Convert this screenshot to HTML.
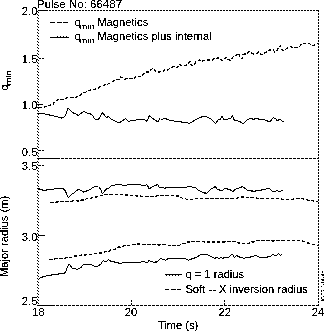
<!DOCTYPE html>
<html><head><meta charset="utf-8"><title>Pulse No: 66487</title>
<style>
html,body{margin:0;padding:0;background:#fff;}
body{width:324px;height:332px;overflow:hidden;}
svg{display:block;}
</style></head>
<body>
<svg width="324" height="332" viewBox="0 0 324 332">
<rect width="324" height="332" fill="#fff"/>
<defs><filter id="bin" x="0" y="0" width="324" height="332" filterUnits="userSpaceOnUse"><feComponentTransfer><feFuncA type="discrete" tableValues="0 0 1 1 1"/></feComponentTransfer></filter></defs>
<g filter="url(#bin)">
<g stroke="#000" fill="none" shape-rendering="crispEdges" stroke-width="1">
<line x1="38" y1="10.5" x2="46" y2="10.5"/>
<line x1="46" y1="10.5" x2="319" y2="10.5" stroke-dasharray="2 1"/>
<line x1="318.5" y1="10" x2="318.5" y2="306" stroke-dasharray="2 1"/>
<line x1="38.5" y1="12" x2="38.5" y2="305" stroke-dasharray="1 2" />
<line x1="37.5" y1="11" x2="37.5" y2="305" stroke-dasharray="1 2" />
<line x1="38" y1="158.5" x2="57" y2="158.5"/>
<line x1="57" y1="158.5" x2="319" y2="158.5" stroke-dasharray="3 1"/>
<line x1="37" y1="305.5" x2="52" y2="305.5"/>
<line x1="52" y1="305.5" x2="319" y2="305.5" stroke-dasharray="3 1"/>
<line x1="39" y1="58.5" x2="44" y2="58.5" stroke-dasharray="2 1"/>
<line x1="39" y1="150.5" x2="44" y2="150.5" stroke-dasharray="2 1"/>
<line x1="39" y1="165.5" x2="44" y2="165.5" stroke-dasharray="2 1"/>
<line x1="38" y1="104.5" x2="43" y2="104.5"/>
<line x1="38" y1="235.5" x2="45" y2="235.5"/>
<line x1="131.5" y1="300" x2="131.5" y2="305" stroke-dasharray="2 1"/>
<line x1="224.5" y1="300" x2="224.5" y2="305" stroke-dasharray="2 1"/>
</g>
<g stroke="#000" fill="none" stroke-width="0.9" stroke-linejoin="round">
<polyline points="38.5,107.6 44.0,107.0 47.7,106.6 48.5,105.2 52.7,105.0 54.5,101.5 57.0,100.0 59.5,99.4 65.0,99.2 66.2,97.8 76.0,97.6 77.2,96.3 80.3,95.1 82.2,92.6 85.9,92.0 87.7,90.8 91.4,89.6 93.9,89.6 97.6,88.3 99.5,87.1 103.2,85.9 105.0,84.6 108.0,84.0 112.0,82.0 116.0,79.9 119.0,79.3 120.3,76.8 123.4,78.0 125.3,79.3 128.3,78.0 130.8,78.6 134.5,78.6 136.4,75.6 139.5,76.5 141.3,76.2 143.9,73.4 145.3,72.0 148.5,72.0 149.9,70.2 153.1,68.3 155.9,72.0 159.1,72.0 162.9,71.6 164.6,69.8 167.7,70.2 169.6,68.3 172.7,67.1 174.5,66.5 177.6,67.7 178.8,64.6 181.3,65.3 182.5,65.9 186.2,65.3 188.1,63.4 190.0,61.6 191.2,65.3 193.0,65.9 194.9,63.4 195.9,61.9 197.1,61.3 199.6,60.0 200.8,61.3 203.3,60.7 205.1,60.0 210.0,60.0 211.3,60.7 213.8,58.8 216.2,58.2 218.7,57.6 219.9,59.4 223.0,60.7 224.2,58.2 226.7,57.6 228.0,59.4 231.0,60.7 232.3,57.6 234.0,56.3 235.7,55.8 237.6,53.3 239.4,54.5 240.0,57.6 241.9,58.8 243.1,54.5 245.6,53.9 247.4,53.3 249.3,51.4 251.1,52.7 254.8,54.5 256.1,53.9 258.5,52.0 261.0,54.5 263.5,54.5 264.7,52.7 267.2,51.4 268.4,50.2 273.2,49.7 274.8,52.1 277.2,50.5 278.8,47.3 280.4,45.7 281.2,48.9 282.8,50.5 286.0,48.9 288.5,47.3 290.0,46.5 293.3,48.0 296.5,47.3 299.7,46.5 301.3,44.0 303.7,43.2 309.3,43.2 310.9,44.9 314.1,45.7 315.7,44.0 318.0,43.2" stroke-dasharray="3.5 1.6" stroke-width="1.1"/>
<polyline points="38.0,113.6 43.4,113.6 48.3,114.8 54.5,116.0 62.0,118.2 65.0,116.7 68.0,107.8 71.2,111.8 76.0,114.2 78.5,115.5 83.4,111.4 88.3,113.6 91.4,114.2 95.1,119.2 98.8,119.2 102.5,112.6 106.2,117.3 108.7,116.7 111.2,119.2 116.0,121.5 119.1,123.1 122.2,120.7 125.9,118.6 128.3,121.3 132.0,120.7 136.4,120.0 138.2,119.4 144.4,119.4 146.9,121.3 149.3,115.7 152.4,118.2 155.9,120.7 158.3,121.9 159.6,118.2 160.8,119.4 165.1,118.6 167.6,119.4 170.7,120.7 173.8,121.0 179.9,121.9 186.7,122.5 188.6,123.5 191.0,122.5 194.0,120.7 196.9,119.1 203.1,116.3 206.8,116.7 210.5,118.8 215.5,123.8 217.9,120.0 220.4,119.4 222.2,115.7 223.5,119.4 225.3,120.0 228.4,118.8 230.5,118.8 232.3,115.1 234.2,120.0 237.3,120.7 240.3,121.9 243.4,123.8 247.1,119.4 249.6,118.8 253.9,119.1 257.0,118.6 260.1,119.4 264.4,119.4 266.9,121.0 270.6,121.3 273.1,117.6 275.6,118.8 277.4,121.0 279.9,118.8 281.8,121.3 283.6,121.3"/>
<polyline points="38.5,187.7 39.7,189.6 44.0,190.2 50.8,189.6 57.6,188.3 62.5,188.3 65.0,190.2 68.1,197.6 71.8,194.5 74.0,192.7 78.9,189.0 83.3,192.0 85.7,191.4 90.0,189.6 94.4,186.5 98.1,186.5 100.5,189.0 102.4,193.9 106.1,189.0 108.6,188.3 111.0,185.9 114.0,185.3 115.7,184.6 119.4,184.0 121.9,184.9 125.0,186.1 128.0,184.6 131.8,184.4 139.8,184.6 141.6,185.3 145.3,185.3 147.2,184.6 149.0,189.0 152.0,187.1 153.1,186.5 157.4,184.6 159.9,187.7 161.7,187.1 164.8,188.3 167.3,187.4 185.8,187.4 188.0,186.5 191.7,186.9 195.4,187.7 199.1,190.6 204.0,193.0 206.5,193.0 210.2,189.6 212.7,188.3 215.2,186.5 217.6,189.6 220.1,190.2 222.0,190.8 224.4,188.7 228.0,189.0 230.9,190.2 232.8,192.0 235.3,189.0 238.3,188.3 242.7,186.5 245.1,188.3 247.6,190.8 254.4,191.1 259.3,190.6 263.0,189.6 267.7,188.6 270.2,189.0 272.6,191.8 275.7,191.1 277.6,190.6 279.4,191.8 281.9,190.6 283.8,191.1"/>
<polyline points="50.2,202.5 53.9,202.5 56.4,201.9 58.8,201.9 61.9,201.3 71.2,201.3 73.0,200.7 79.6,200.9 81.4,200.1 84.5,200.1 87.0,198.2 90.7,198.2 93.1,197.0 96.2,197.0 98.7,195.8 101.8,195.8 105.5,194.5 109.8,194.5 112.3,194.2 116.3,194.4 118.2,194.3 122.5,194.3 125.6,195.1 128.0,195.1 131.8,195.8 135.5,195.8 138.5,196.1 154.9,196.4 156.8,195.8 173.5,195.8 179.6,196.1 182.1,198.2 184.6,198.2 187.0,199.5 190.5,199.5 194.2,198.8 197.9,198.8 200.3,198.2 204.0,198.2 206.5,198.5 230.9,198.3 233.4,198.2 236.5,198.2 239.6,197.0 242.0,197.0 244.5,197.2 249.5,197.2 250.7,197.6 255.0,197.6 257.5,198.5 266.0,198.3 273.9,198.5 276.3,198.8 280.0,198.8 282.5,199.2 293.0,199.2 296.1,198.5 299.8,198.7 305.7,199.1 307.8,200.2 312.0,200.2 314.1,201.5 318.3,201.5" stroke-dasharray="3.5 1.6" stroke-width="1.1"/>
<polyline points="49.0,259.4 53.3,259.4 55.8,258.6 59.5,258.6 61.9,258.2 65.0,258.2 67.5,257.3 71.8,257.3 73.0,256.1 76.0,256.0 78.9,255.7 81.4,254.9 85.1,254.9 87.6,254.5 91.3,254.5 94.4,253.6 97.5,253.6 100.5,252.9 103.0,252.9 105.5,251.4 109.2,251.4 110.4,249.6 114.0,249.3 115.7,249.0 118.2,247.1 121.3,247.1 125.0,245.6 128.7,245.6 131.1,244.6 134.8,244.6 137.3,244.0 140.4,244.0 143.5,244.4 153.1,244.4 156.2,244.9 159.3,244.9 162.3,244.6 166.7,244.6 168.5,245.3 172.8,245.3 174.7,245.6 179.0,245.6 181.5,243.7 185.2,243.7 187.0,241.9 191.1,241.9 192.9,241.6 203.4,241.6 205.9,242.1 223.2,242.1 225.7,241.6 235.3,241.6 238.3,242.9 241.4,242.9 243.9,243.7 248.8,243.7 250.1,241.9 253.2,241.9 256.9,240.6 266.0,240.7 273.8,240.9 276.5,240.5 298.9,240.5 303.4,241.4 306.9,242.7 310.5,243.7 313.2,244.5 318.0,245.5" stroke-dasharray="3.5 1.6" stroke-width="1.1"/>
<polyline points="38.0,279.8 39.7,278.0 43.4,276.7 48.3,275.5 54.5,274.6 60.7,273.6 65.0,273.0 66.9,268.7 68.7,264.4 70.6,265.6 71.8,268.1 74.0,268.4 77.1,269.3 80.2,268.4 83.9,264.4 91.3,264.4 94.4,266.2 97.5,266.2 100.5,264.4 103.0,260.7 105.5,261.9 108.6,259.8 111.0,261.3 114.0,261.9 116.9,262.5 120.0,263.4 124.3,262.5 131.8,262.5 136.7,262.9 144.1,261.3 147.2,263.2 149.0,260.1 150.0,261.3 153.7,262.2 157.4,261.9 160.5,258.0 163.6,259.7 165.4,260.1 167.9,258.8 184.6,258.8 187.0,259.2 188.0,260.4 192.9,258.5 196.6,257.3 200.3,254.8 204.0,254.0 207.1,254.5 211.5,256.7 214.5,258.5 217.0,257.3 218.9,258.5 220.7,257.3 222.6,258.5 225.0,257.3 228.5,257.3 231.6,254.8 232.8,254.2 234.6,257.9 236.5,255.5 240.2,257.3 243.9,258.2 248.2,257.3 252.5,256.7 256.2,255.2 259.3,257.3 261.8,257.9 266.0,257.3 270.3,256.6 272.9,254.5 275.6,255.7 278.3,253.9 280.1,255.4 282.8,253.9"/>
<line x1="50" y1="22.5" x2="68" y2="22.5" stroke-width="1" stroke-dasharray="5 2 5 1 5"/>
<line x1="50" y1="37.5" x2="69" y2="37.5" stroke-width="1"/>
<line x1="57" y1="36.5" x2="68" y2="36.5" stroke-width="1" stroke-dasharray="1 2"/>
<line x1="165" y1="274.5" x2="182" y2="274.5" stroke-width="1"/>
<line x1="166" y1="275.5" x2="181" y2="275.5" stroke-width="1" stroke-dasharray="1 2"/>
<line x1="165" y1="289.5" x2="182" y2="289.5" stroke-width="1" stroke-dasharray="3.5 2.5 4.5 2"/>
</g>
<g font-family='"Liberation Sans", Arial, Helvetica, sans-serif' font-size="11.2" fill="#000">
<text x="37" y="8.2" font-size="11.5">Pulse No: 66487</text>
<text x="74.6" y="25.5">q</text>
<text transform="translate(79.3,28.6) scale(1,0.8)" font-size="9.4">min</text>
<text x="97.3" y="25.5">Magnetics</text>
<text x="74.6" y="39.6">q</text>
<text transform="translate(79.3,42.6) scale(1,0.8)" font-size="9.4">min</text>
<text x="97.3" y="39.6">Magnetics plus internal</text>
<g text-anchor="end">
<text x="37.4" y="15">2.0</text>
<text x="37.4" y="63">1.5</text>
<text x="37.4" y="108.6">1.0</text>
<text x="37.4" y="155.6">0.5</text>
<text x="37.4" y="170.2">3.5</text>
<text x="37.4" y="240.8">3.0</text>
<text x="37.4" y="305.2">2.5</text>
</g>
<g text-anchor="middle">
<text x="38.4" y="315.7">18</text>
<text x="131" y="315.7">20</text>
<text x="224.8" y="315.7">22</text>
<text x="318" y="315.7">24</text>
<text x="178" y="328.9">Time (s)</text>
<text transform="translate(7.8,90.6) rotate(-90)" text-anchor="start">q</text>
<text transform="translate(10.5,85.2) rotate(-90) scale(1,0.8)" text-anchor="start" font-size="9.4">min</text>
<text transform="translate(8.1,236.4) rotate(-90)">Major radius (m)</text>
</g>
<text x="185.4" y="278.3">q = 1 radius</text>
<text x="185.4" y="293">Soft -<tspan dx="0.7">-</tspan><tspan dx="-0.7"> X inversion radius</tspan></text>
<text transform="translate(325.3,302.7) rotate(-90)" font-size="5.6">JG03.144-4c</text>
</g>
</g>
</svg>
</body></html>
